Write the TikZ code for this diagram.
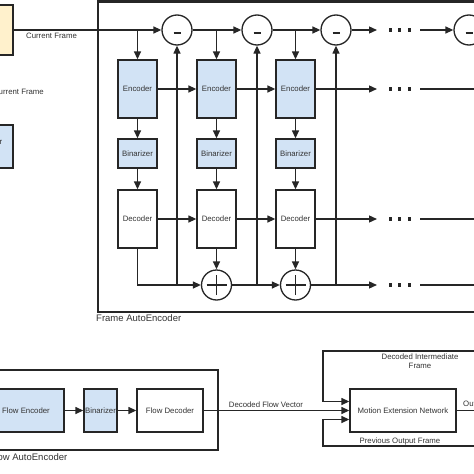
\documentclass[tikz,border=0pt]{standalone}
\usepackage{fontspec}
\setmainfont{Liberation Sans}
\usetikzlibrary{arrows.meta,positioning}
\definecolor{linec}{HTML}{262626}
\definecolor{bluef}{HTML}{D2E3F5}
\definecolor{yelf}{HTML}{FFF1CC}
\definecolor{textc}{HTML}{333333}
\begin{document}
\begin{tikzpicture}[x=1pt,y=-1pt,
  every node/.style={text=textc},
  blk/.style={draw=linec, line width=1.3pt, inner sep=0pt, font=\fontsize{7.8}{8.5}\selectfont, align=center},
  encb/.style={blk, fill=bluef, minimum width=39pt, minimum height=58pt},
  binb/.style={blk, fill=bluef, minimum width=39pt, minimum height=29pt},
  decb/.style={blk, fill=white, minimum width=39pt, minimum height=58pt},
  minusc/.style={circle, draw=linec, line width=1.3pt, minimum size=30pt, inner sep=0pt,
     path picture={\draw[line width=2.2pt, linec] ([xshift=-3.5pt,yshift=-3pt]path picture bounding box.center) -- ([xshift=3.5pt,yshift=-3pt]path picture bounding box.center);}},
  plusc/.style={circle, draw=linec, line width=1.3pt, minimum size=30pt, inner sep=0pt,
     path picture={\draw[line width=1.4pt, linec] ([xshift=-10pt]path picture bounding box.center) -- ([xshift=10pt]path picture bounding box.center)
        ([yshift=-10pt]path picture bounding box.center) -- ([yshift=10pt]path picture bounding box.center);}},
  conn/.style={draw=linec, line width=1.3pt},
  arr/.style={conn, -{Triangle[length=8pt,width=7pt]}},
  lbl/.style={font=\fontsize{7.8}{8.5}\selectfont, inner sep=0pt},
  biglbl/.style={font=\fontsize{9.5}{10.5}\selectfont, inner sep=0pt},
]
\useasboundingbox (0,0) rectangle (474,474);
\clip (0,0) rectangle (474,474);
\fill[white] (0,0) rectangle (474,474);

% Frame AutoEncoder container
\node[draw=linec, line width=1.5pt, minimum width=430pt, minimum height=310pt, inner sep=0pt] (fae) at (313,157) {};
\draw[linec, line width=2.5pt] (fae.north west) -- (fae.north east);
\node[biglbl, anchor=west] (faelbl) at (96,318) {Frame AutoEncoder};

% left partial boxes
\node[blk, fill=yelf, minimum width=40pt, minimum height=50pt] (yel) at (-7,30) {};
\node[blk, fill=bluef, minimum width=40pt, minimum height=43pt] (lblue) at (-7,146.5) {};
\node[lbl, anchor=east] (lbluet) at (2.5,142) {Encoder};
\node[lbl] (cf1) at (51.5,36) {Current Frame};
\node[lbl, anchor=east] (cf2) at (44,92) {Current Frame};

% minus circles
\node[minusc] (m1) at (177,30) {};
\node[minusc] (m2) at (257,30) {};
\node[minusc] (m3) at (336,30) {};
\node[minusc] (m4) at (469,30) {};

% columns
\node[encb] (e1) at (137.5,89) {Encoder};
\node[encb] (e2) at (216.5,89) {Encoder};
\node[encb] (e3) at (295.5,89) {Encoder};
\node[binb] (b1) at (137.5,153.5) {Binarizer};
\node[binb] (b2) at (216.5,153.5) {Binarizer};
\node[binb] (b3) at (295.5,153.5) {Binarizer};
\node[decb] (d1) at (137.5,219) {Decoder};
\node[decb] (d2) at (216.5,219) {Decoder};
\node[decb] (d3) at (295.5,219) {Decoder};
\node[plusc] (p1) at (216.5,285) {};
\node[plusc] (p2) at (295.5,285) {};

% ellipsis coordinates
\coordinate (ra) at (377,30);  \coordinate (rb) at (420,30);
\coordinate (ea) at (377,89);  \coordinate (eb) at (420,89); \coordinate (ec) at (480,89);
\coordinate (da) at (377,219); \coordinate (db) at (420,219); \coordinate (dc) at (480,219);
\coordinate (sa) at (377,285); \coordinate (sb) at (420,285); \coordinate (sc) at (480,285);
\foreach \yy in {30,89,219,285} {
  \fill[linec] (388.5,\yy-1.6) rectangle (391.7,\yy+1.6);
  \fill[linec] (398,\yy-1.6) rectangle (401.2,\yy+1.6);
  \fill[linec] (407.5,\yy-1.6) rectangle (410.7,\yy+1.6);
}

% top row
\draw[arr] (yel.east |- m1.west) -- (m1.west);
\draw[arr] (e1.north |- m1.west) -- (e1.north);
\draw[arr] (m1.east) -- (m2.west);
\draw[arr] (e2.north |- m2.west) -- (e2.north);
\draw[arr] (m2.east) -- (m3.west);
\draw[arr] (e3.north |- m3.west) -- (e3.north);
\draw[arr] (m3.east) -- (ra);
\draw[arr] (rb) -- (m4.west);

% encoder row
\draw[arr] (e1.east) -- (e2.west);
\draw[arr] (e2.east) -- (e3.west);
\draw[arr] (e3.east) -- (ea);
\draw[conn] (eb) -- (ec);
\foreach \i in {1,2,3} {
  \draw[arr] (e\i.south) -- (b\i.north);
  \draw[arr] (b\i.south) -- (d\i.north);
}
% decoder row
\draw[arr] (d1.east) -- (d2.west);
\draw[arr] (d2.east) -- (d3.west);
\draw[arr] (d3.east) -- (da);
\draw[conn] (db) -- (dc);

% sum row
\draw[arr] (d1.south) |- (p1.west);
\draw[arr] (m1.south |- p1.west) -- (m1.south);
\draw[arr] (d2.south) -- (p1.north);
\draw[arr] (d3.south) -- (p2.north);
\draw[arr] (p1.east) -- (p2.west);
\draw[arr] (m2.south |- p2.west) -- (m2.south);
\draw[arr] (p2.east) -- (sa);
\draw[arr] (m3.south |- sa) -- (m3.south);
\draw[conn] (sb) -- (sc);

% Flow AutoEncoder
\node[draw=linec, line width=1.3pt, minimum width=238pt, minimum height=80pt, inner sep=0pt] (flae) at (99,410) {};
\node[biglbl, anchor=east] (flaelbl) at (67.5,457) {Flow AutoEncoder};
\node[blk, fill=bluef, minimum width=76pt, minimum height=43pt] (fenc) at (26,410.5) {Flow Encoder};
\node[blk, fill=bluef, minimum width=33pt, minimum height=43pt] (fbin) at (100.5,410.5) {Binarizer};
\node[blk, fill=white, minimum width=66pt, minimum height=43pt] (fdec) at (170,410.5) {Flow Decoder};
\draw[arr] (fenc.east) -- (fbin.west);
\draw[arr] (fbin.east) -- (fdec.west);

% Motion Extension Network
\node[blk, minimum width=106pt, minimum height=43pt] (men) at (403,410.5) {Motion Extension Network};
\draw[arr] (fdec.east) -- (men.west);
\node[lbl, anchor=south] (dfv) at (266,408) {Decoded Flow Vector};
\coordinate (topr) at (480,351);
\coordinate (botr) at (480,446);
\draw[arr] (topr) -- (323,351) |- ([yshift=9pt]men.west);
\draw[arr] (botr) -- (323,446) |- ([yshift=-9pt]men.west);
\node[lbl, align=center] (dif) at (420,361) {Decoded Intermediate\\Frame};
\node[lbl] (pof) at (400,441) {Previous Output Frame};
\coordinate (outr) at (480,410.5);
\draw[conn] (men.east) -- (outr);
\node[lbl, anchor=south west] (outl) at (463,408) {Output Frame};
\end{tikzpicture}
\end{document}
